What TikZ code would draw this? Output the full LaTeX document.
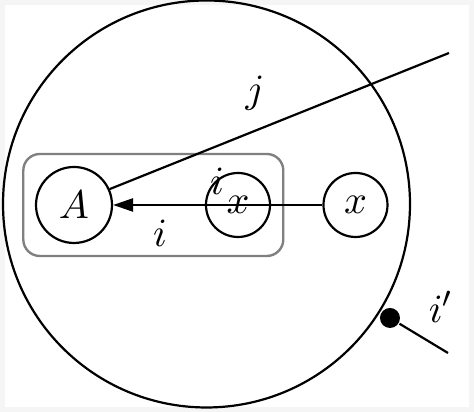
\documentclass[tikz,border=0pt]{standalone}
\usetikzlibrary{arrows.meta}
\begin{document}
\begin{tikzpicture}[x=0.273pt,y=-0.273pt,line width=0.6pt,
  every node/.style={font=\fontsize{11}{13}\selectfont},
  vtx/.style={draw,circle,inner sep=0pt},
  lbl/.style={inner sep=0pt}]
\useasboundingbox (0,0) rectangle (474,412);
\fill[gray!8] (0,0) rectangle (474,412);
\fill[white] (5,5) rectangle (469,407);
\node[draw,circle,minimum size={407*0.273pt},inner sep=0pt] (big) at (206.5,204) {};
\node[draw=gray,line width=0.65pt,rounded corners=4.5pt,minimum width={260*0.273pt},minimum height={102*0.273pt}] (plate) at (153.3,205) {};
\node[vtx,minimum size={76*0.273pt}] (A) at (74,205) {$A$};
\node[vtx,minimum size={64*0.273pt}] (x1) at (238,205) {$x$};
\node[vtx,minimum size={64*0.273pt}] (x2) at (355.5,205) {$x$};
\coordinate (jend) at (449,53);
\draw (A.24) -- (jend);
\draw[-{Triangle[length=5.5pt,width=3.6pt]}] (x2) -- (A);
\node[circle,fill,inner sep=0pt,minimum size={20*0.273pt}] (dot) at (390,318) {};
\coordinate (iend) at (448,353);
\draw (dot) -- (iend);
\node[lbl] (lj) at (255,93) {$j$};
\node[lbl] (li1) at (160,233) {$i$};
\node[lbl] (li2) at (217,181) {$i$};
\node[lbl] (lip) at (441,307) {$i'$};
\end{tikzpicture}
\end{document}
